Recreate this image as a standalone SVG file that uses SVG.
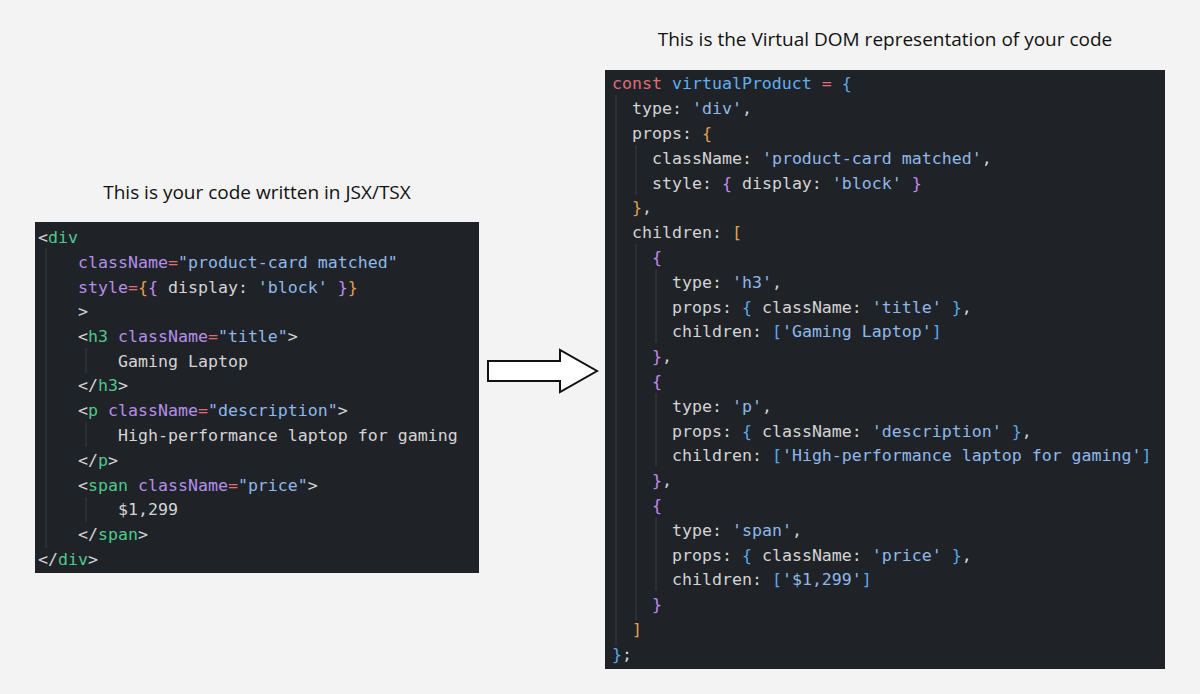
<svg xmlns="http://www.w3.org/2000/svg" width="1200" height="694" viewBox="0 0 1200 694">
<style>
.t{font-family:"Open Sans","Liberation Sans",sans-serif;font-size:19px;fill:#111;text-anchor:middle}
.c{font-family:"DejaVu Sans Mono","Liberation Mono",monospace;font-size:16.6px;fill:#d4d4d4;white-space:pre}
.g{fill:#4ec98c}.a{fill:#b48ee8}.s{fill:#8fb8e8}.o{fill:#e0a050}.p{fill:#c58af0}.b{fill:#5ca8e8}.k{fill:#e06c75}.v{fill:#61afef}.w{fill:#d4d4d4}
.guide{stroke:#3a3f45;stroke-width:1}
</style>
<rect width="1200" height="694" fill="#f3f3f3"/>
<text class="t" x="257" y="199">This is your code written in JSX/TSX</text>
<text class="t" x="885" y="46">This is the Virtual DOM representation of your code</text>
<g id="jsx">
<rect x="35" y="222" width="444" height="351" fill="#1f2328"/>
<g class="guide"><line x1="46" y1="248" x2="46" y2="548"/><line x1="86" y1="348" x2="86" y2="373"/><line x1="86" y1="422" x2="86" y2="447"/><line x1="86" y1="497" x2="86" y2="522"/></g>
<text class="c">
<tspan x="38" y="243"><tspan class="w">&lt;</tspan><tspan class="g">div</tspan></tspan>
<tspan x="78" y="268"><tspan class="a">className</tspan><tspan class="k">=</tspan><tspan class="s">"product-card matched"</tspan></tspan>
<tspan x="78" y="293"><tspan class="a">style</tspan><tspan class="k">=</tspan><tspan class="o">{</tspan><tspan class="p">{</tspan> display: <tspan class="s">'block'</tspan> <tspan class="p">}</tspan><tspan class="o">}</tspan></tspan>
<tspan x="78" y="317">&gt;</tspan>
<tspan x="78" y="342">&lt;<tspan class="g">h3</tspan> <tspan class="a">className</tspan><tspan class="k">=</tspan><tspan class="s">"title"</tspan>&gt;</tspan>
<tspan x="118" y="367">Gaming Laptop</tspan>
<tspan x="78" y="391">&lt;/<tspan class="g">h3</tspan>&gt;</tspan>
<tspan x="78" y="416">&lt;<tspan class="g">p</tspan> <tspan class="a">className</tspan><tspan class="k">=</tspan><tspan class="s">"description"</tspan>&gt;</tspan>
<tspan x="118" y="441">High-performance laptop for gaming</tspan>
<tspan x="78" y="466">&lt;/<tspan class="g">p</tspan>&gt;</tspan>
<tspan x="78" y="491">&lt;<tspan class="g">span</tspan> <tspan class="a">className</tspan><tspan class="k">=</tspan><tspan class="s">"price"</tspan>&gt;</tspan>
<tspan x="118" y="515">$1,299</tspan>
<tspan x="78" y="540">&lt;/<tspan class="g">span</tspan>&gt;</tspan>
<tspan x="38" y="565">&lt;/<tspan class="g">div</tspan>&gt;</tspan>
</text>
</g>
<g id="connectors">
<path d="M488,361 H560 V350 L597,371 L560,392 V381 H488 Z" fill="#fff" stroke="#111" stroke-width="2"/>
</g>
<g id="vdom">
<rect x="605" y="70" width="560" height="599" fill="#1f2328"/>
<g class="guide"><line x1="616" y1="95" x2="616" y2="645"/><line x1="636" y1="145" x2="636" y2="195"/><line x1="636" y1="244" x2="636" y2="620"/><line x1="656" y1="269" x2="656" y2="343"/><line x1="656" y1="393" x2="656" y2="467"/><line x1="656" y1="517" x2="656" y2="591"/></g>
<text class="c">
<tspan x="612" y="89"><tspan class="k">const</tspan> <tspan class="v">virtualProduct</tspan> <tspan class="k">=</tspan> <tspan class="b">{</tspan></tspan>
<tspan x="632" y="114">type: <tspan class="s">'div'</tspan>,</tspan>
<tspan x="632" y="139">props: <tspan class="o">{</tspan></tspan>
<tspan x="652" y="164">className: <tspan class="s">'product-card matched'</tspan>,</tspan>
<tspan x="652" y="189">style: <tspan class="p">{</tspan> display: <tspan class="s">'block'</tspan> <tspan class="p">}</tspan></tspan>
<tspan x="632" y="213"><tspan class="o">}</tspan>,</tspan>
<tspan x="632" y="238">children: <tspan class="o">[</tspan></tspan>
<tspan x="652" y="263"><tspan class="p">{</tspan></tspan>
<tspan x="672" y="288">type: <tspan class="s">'h3'</tspan>,</tspan>
<tspan x="672" y="313">props: <tspan class="b">{</tspan> className: <tspan class="s">'title'</tspan> <tspan class="b">}</tspan>,</tspan>
<tspan x="672" y="337">children: <tspan class="b">[</tspan><tspan class="s">'Gaming Laptop'</tspan><tspan class="b">]</tspan></tspan>
<tspan x="652" y="362"><tspan class="p">}</tspan>,</tspan>
<tspan x="652" y="387"><tspan class="p">{</tspan></tspan>
<tspan x="672" y="412">type: <tspan class="s">'p'</tspan>,</tspan>
<tspan x="672" y="437">props: <tspan class="b">{</tspan> className: <tspan class="s">'description'</tspan> <tspan class="b">}</tspan>,</tspan>
<tspan x="672" y="461">children: <tspan class="b">[</tspan><tspan class="s">'High-performance laptop for gaming'</tspan><tspan class="b">]</tspan></tspan>
<tspan x="652" y="486"><tspan class="p">}</tspan>,</tspan>
<tspan x="652" y="511"><tspan class="p">{</tspan></tspan>
<tspan x="672" y="536">type: <tspan class="s">'span'</tspan>,</tspan>
<tspan x="672" y="561">props: <tspan class="b">{</tspan> className: <tspan class="s">'price'</tspan> <tspan class="b">}</tspan>,</tspan>
<tspan x="672" y="585">children: <tspan class="b">[</tspan><tspan class="s">'$1,299'</tspan><tspan class="b">]</tspan></tspan>
<tspan x="652" y="610"><tspan class="p">}</tspan></tspan>
<tspan x="632" y="635"><tspan class="o">]</tspan></tspan>
<tspan x="612" y="660"><tspan class="b">}</tspan>;</tspan>
</text>
</g>
</svg>
